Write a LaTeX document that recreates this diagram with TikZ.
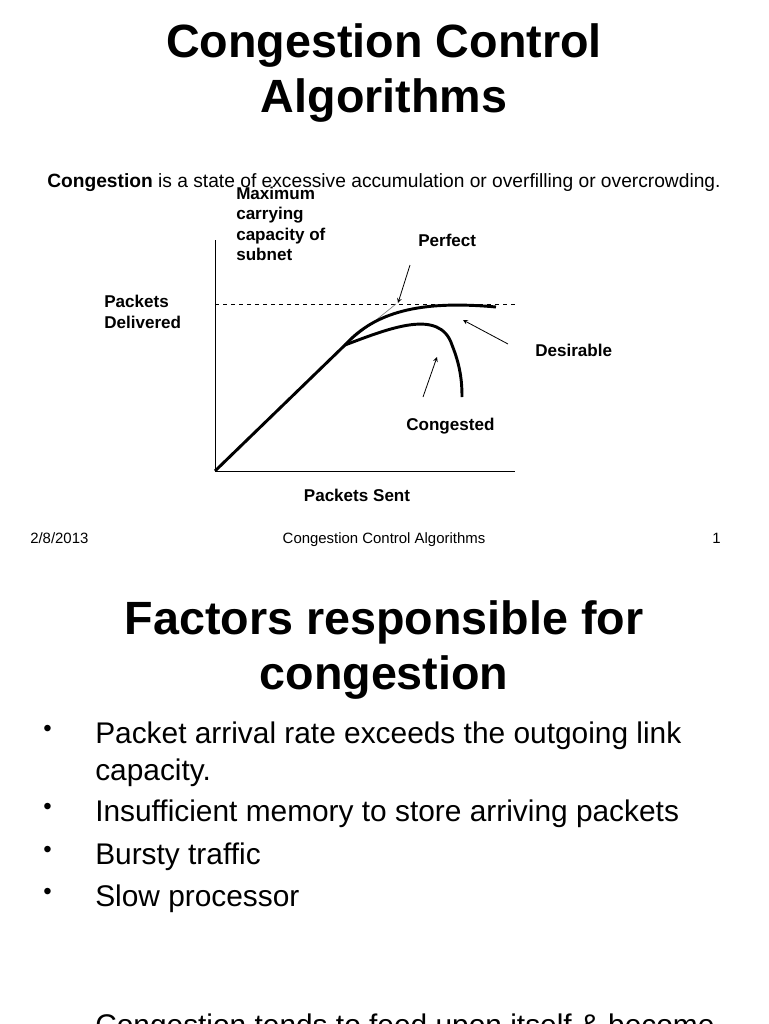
\documentclass[tikz,border=0pt]{standalone}
\usepackage{fontspec}
\setmainfont{Liberation Sans}
\begin{document}
\begin{tikzpicture}[x=0.75pt,y=-0.75pt,
  ttl/.style={font=\fontsize{35}{41.5}\selectfont\bfseries,align=center},
  lbl/.style={font=\fontsize{12.8}{15.4}\selectfont\bfseries,align=left,anchor=west,inner sep=0},
  txt/.style={font=\fontsize{14.4}{17}\selectfont,inner sep=0},
  ftr/.style={font=\fontsize{11.2}{13}\selectfont,inner sep=0,anchor=base},
  bul/.style={font=\fontsize{22.4}{27.5}\selectfont,align=left,anchor=north west,inner sep=0},
  curve/.style={line width=2.2pt},
  pt/.style={->,>=stealth,line width=0.6pt}]
\clip (0,0) rectangle (768,1024);
\fill[white] (0,0) rectangle (768,1024);
\node[ttl] (t1) at (384,73) {Congestion Control\\Algorithms};
\node[txt,anchor=west] (def) at (47,183) {\textbf{Congestion} is a state of excessive accumulation or overfilling or overcrowding.};
% axes
\coordinate (o) at (215,471);
\coordinate (ytop) at (215,240);
\coordinate (xend) at (515,471);
\draw[line width=0.6pt] (ytop) -- (o) -- (xend);
\coordinate (d0) at (215,304); \coordinate (d1) at (515,304);
\draw[dashed,line width=0.5pt] (d0) -- (d1);
\coordinate (k) at (345,345);
\draw[gray,line width=0.5pt] (k) -- (396,304);
\draw[curve] (o) -- (k) .. controls (375,312) and (420,300) .. (496,307);
\draw[curve] (k) .. controls (390,328) and (440,308) .. (452,345) .. controls (460,365) and (462,380) .. (462,397);
\coordinate (pa) at (410,265); \coordinate (pb) at (398,303);
\coordinate (da) at (508,344); \coordinate (db) at (463,320);
\coordinate (ca) at (423,397); \coordinate (cb) at (437,357);
\draw[pt] (pa) -- (pb);
\draw[pt] (da) -- (db);
\draw[pt] (ca) -- (cb);
\node[lbl] (max) at (236,224) {Maximum\\carrying\\capacity of\\subnet};
\node[lbl] (perf) at (418,240) {Perfect};
\node[lbl] (pd) at (104,312) {Packets\\Delivered};
\node[lbl] (des) at (535,350) {Desirable};
\node[lbl] (cong) at (406,426) {Congested};
\node[lbl,anchor=center] (ps) at (357,495) {Packets Sent};
% footer
\node[ftr,anchor=base west] (date) at (30,543) {2/8/2013};
\node[ftr] (ftitle) at (384,543) {Congestion Control Algorithms};
\node[ftr,anchor=base east] (pg) at (721,543) {1};
% second slide
\node[ttl] (t2) at (384,650) {Factors responsible for\\congestion};
\foreach \y/\t [count=\i] in {722/{Packet arrival rate exceeds the outgoing link\\capacity.},800/{Insufficient memory to store arriving packets},843/{Bursty traffic},885/{Slow processor}}{
  \node[bul] (b\i) at (95,\y) {\t};
  \node[bul,anchor=north west,font=\fontsize{18}{22}\selectfont] (d\i) at (43,\y+3) {•};
}
\node[bul,anchor=north west] (last) at (95,1014) {Congestion tends to feed upon itself \& become};
\end{tikzpicture}
\end{document}
